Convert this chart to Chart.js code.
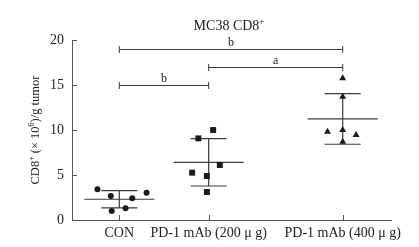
<!DOCTYPE html>
<html><head><meta charset="utf-8">
<script src="https://cdn.jsdelivr.net/npm/chart.js@4"></script>
<style>html,body{margin:0;padding:0;background:#fff}#wrap{width:419px;height:247px;position:relative}</style>
</head><body><div id="wrap"><canvas id="c"></canvas></div>
<script>
// ---- data ----
const categories = ['CON', 'PD-1 mAb (200 μ g)', 'PD-1 mAb (400 μ g)'];
const conValues   = [3.41, 2.67, 2.41, 3.04, 1.0, 1.3];
const pd200Values = [10.0, 9.07, 6.11, 5.26, 4.89, 3.11];
const pd400Values = [15.74, 13.7, 10.0, 9.81, 9.44, 8.7];
// horizontal scatter of each point around its group (in category units)
const conJitter   = [-0.49, -0.19, 0.29, 0.61, -0.17, 0.14];
const pd200Jitter = [0.10, -0.23, 0.25, -0.37, -0.04, -0.04];
const pd400Jitter = [0, 0, 0, -0.34, 0.30, 0];
const yTicks = [0, 5, 10, 15, 20];
const bracketFrom  = [0, 1, 0];
const bracketTo    = [1, 2, 2];
const bracketY     = [15, 17, 19];
const bracketLabel = ['b', 'a', 'b'];
// text pieces: [text, isSuperscript]
const chartTitle = [['MC38 CD8', false], ['+', true]];
const yTitle = [['CD8', false], ['+', true], [' (× 10', false], ['6', true], [')/g tumor', false]];

// ---- layout ----
const slots = [0, 2, 5];
const SERIF = '"Liberation Serif", "Times New Roman", serif';
const groups = [conValues, pd200Values, pd400Values];
const jitters = [conJitter, pd200Jitter, pd400Jitter];
const shapes = ['circle', 'rect', 'triangle'];
const radii = [3, 4.2, 4];

function pts(vals, jit, slot) { return vals.map((v, i) => ({x: slot + jit[i], y: v})); }
function mean(a) { return a.reduce((s, v) => s + v, 0) / a.length; }
function sd(a) { const m = mean(a); return Math.sqrt(a.reduce((s, v) => s + (v - m) * (v - m), 0) / (a.length - 1)); }

function drawRich(ctx, parts, cx, cy, size) {
  const supSize = Math.round(size * 0.62);
  let w = 0;
  parts.forEach(([t, sup]) => { ctx.font = (sup ? supSize : size) + 'px ' + SERIF; w += ctx.measureText(t).width; });
  let x = cx - w / 2;
  ctx.textAlign = 'left';
  ctx.textBaseline = 'alphabetic';
  parts.forEach(([t, sup]) => {
    ctx.font = (sup ? supSize : size) + 'px ' + SERIF;
    ctx.fillText(t, x, cy + size * 0.35 - (sup ? size * 0.42 : 0));
    x += ctx.measureText(t).width;
  });
}

const overlay = {
  id: 'overlay',
  beforeDatasetsDraw(chart) {
    const ctx = chart.ctx, xs = chart.scales.x, ys = chart.scales.y;
    ctx.save();
    ctx.strokeStyle = '#3a3a3a';
    ctx.lineWidth = 1.2;
    groups.forEach((g, i) => {
      const cx = xs.getPixelForValue(slots[i]);
      const m = mean(g), s = sd(g);
      const ym = ys.getPixelForValue(m), yu = ys.getPixelForValue(m + s), yl = ys.getPixelForValue(m - s);
      ctx.beginPath();
      ctx.moveTo(cx - 35, ym); ctx.lineTo(cx + 35, ym);
      ctx.moveTo(cx - 18, yu); ctx.lineTo(cx + 18, yu);
      ctx.moveTo(cx - 18, yl); ctx.lineTo(cx + 18, yl);
      ctx.moveTo(cx, yu); ctx.lineTo(cx, yl);
      ctx.stroke();
    });
    ctx.restore();
  },
  afterDraw(chart) {
    const ctx = chart.ctx, xs = chart.scales.x, ys = chart.scales.y, a = chart.chartArea;
    ctx.save();
    // inward ticks
    ctx.strokeStyle = '#555';
    ctx.lineWidth = 1;
    ctx.beginPath();
    yTicks.forEach(t => { const y = Math.round(ys.getPixelForValue(t)) + 0.5; ctx.moveTo(a.left, y); ctx.lineTo(a.left + 5, y); });
    slots.forEach(s => { const x = Math.round(xs.getPixelForValue(s)) + 0.5; ctx.moveTo(x, a.bottom); ctx.lineTo(x, a.bottom - 5); });
    ctx.stroke();
    // brackets
    ctx.strokeStyle = '#3a3a3a';
    ctx.fillStyle = '#222';
    ctx.font = '12px ' + SERIF;
    ctx.textAlign = 'center';
    ctx.textBaseline = 'middle';
    bracketY.forEach((v, i) => {
      const x1 = xs.getPixelForValue(slots[bracketFrom[i]]), x2 = xs.getPixelForValue(slots[bracketTo[i]]);
      const y = Math.round(ys.getPixelForValue(v)) + 0.5;
      ctx.beginPath();
      ctx.moveTo(x1, y); ctx.lineTo(x2, y);
      ctx.moveTo(x1, y - 3.5); ctx.lineTo(x1, y + 3.5);
      ctx.moveTo(x2, y - 3.5); ctx.lineTo(x2, y + 3.5);
      ctx.stroke();
      ctx.fillText(bracketLabel[i], (x1 + x2) / 2, y - 7);
    });
    // title
    drawRich(ctx, chartTitle, 229, 25, 14);
    // y title
    ctx.translate(35, (a.top + a.bottom) / 2);
    ctx.rotate(-Math.PI / 2);
    drawRich(ctx, yTitle, 0, 0, 12.5);
    ctx.restore();
  }
};

new Chart(document.getElementById('c'), {
  type: 'scatter',
  data: {
    datasets: groups.map((g, i) => ({
      label: categories[i],
      data: pts(g, jitters[i], slots[i]),
      pointStyle: shapes[i],
      pointRadius: radii[i],
      pointHoverRadius: radii[i],
      backgroundColor: '#1a1a1a',
      borderColor: '#1a1a1a',
      borderWidth: 0
    }))
  },
  options: {
    responsive: true,
    maintainAspectRatio: false,
    animation: false,
    events: [],
    layout: { padding: { top: 40, right: 28, left: 0, bottom: 0 } },
    plugins: { legend: { display: false }, tooltip: { enabled: false }, title: { display: false } },
    scales: {
      x: {
        type: 'linear',
        min: -1.059, max: 6.081,
        afterBuildTicks: s => { s.ticks = slots.map(v => ({ value: v })); },
        afterFit: s => { s.height = 27; },
        grid: { display: false, drawTicks: false },
        border: { display: true, color: '#555', width: 1 },
        ticks: {
          padding: 5,
          color: '#222',
          font: { family: SERIF, size: 14 },
          maxRotation: 0, autoSkip: false,
          callback: (v, i) => categories[i]
        }
      },
      y: {
        min: 0, max: 20,
        afterBuildTicks: s => { s.ticks = yTicks.map(v => ({ value: v })); },
        afterFit: s => { s.width = 72; },
        grid: { display: false, drawTicks: false },
        border: { display: true, color: '#555', width: 1 },
        ticks: { padding: 8, color: '#222', font: { family: SERIF, size: 14 } }
      }
    }
  },
  plugins: [overlay]
});
</script>
</body></html>
